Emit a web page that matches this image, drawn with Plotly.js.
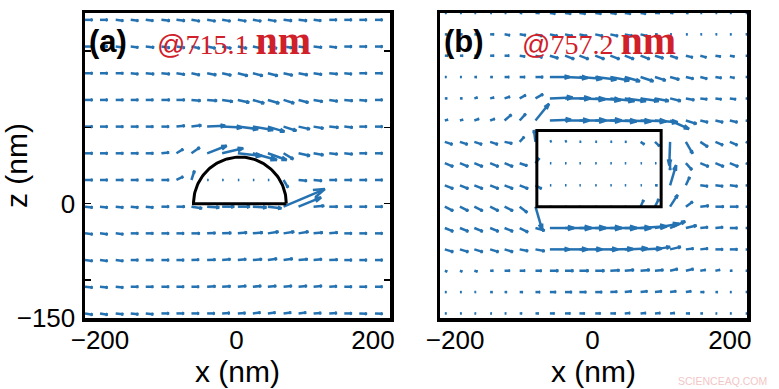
<!DOCTYPE html>
<html>
<head>
<meta charset="utf-8">
<script src="https://cdn.plot.ly/plotly-3.0.1.min.js"></script>
<style>html,body{margin:0;padding:0;background:#fff;}#chart{width:779px;height:389px;}</style>
</head>
<body>
<div id="chart"></div>
<script>
// ---------- Panel (a): @715.1 nm ----------
const Xa = [-222,-200,-177,-155,-133,-110,-88,-66,-43,-21,2,24,46,69,91,113,136,158,180,203];
const Ya = [241,206,171,136,101,66,31,-4,-39,-74,-109,-144];
const Ua = [
 [10,10,10,10,10,11,11,11,11,11,11,11,11,11,11,10,10,10,10,10],
 [10,10,10,10,11,11,11,11,11,12,12,12,12,11,11,11,10,10,10,10],
 [10,10,10,10,11,11,11,11,12,12,13,13,13,12,12,11,11,10,10,10],
 [10,10,10,10,10,11,11,12,13,14,15,15,15,14,13,12,11,11,10,10],
 [10,10,10,10,10,10,11,13,24,26,27,27,22,17,15,13,12,11,10,10],
 [10,10,10,10,10,10,9,11,26,28,32,32,25,13,15,13,11,11,10,10],
 [10,10,10,10,10,10,9,4,1.5,1.5,1.5,1.5,1.5,6,11,11,10,10,10,10],
 [10,10,10,10,10,10,11,14,16,16,16,18,18,55,30,14,11,10,10,10],
 [10,10,10,10,10,10,10,11,11,12,12,13,14,14,13,12,11,10,10,10],
 [10,10,10,10,10,10,10,10,11,11,11,12,12,12,12,11,11,10,10,10],
 [10,10,10,10,10,10,10,10,11,11,11,11,11,11,11,11,10,10,10,10],
 [10,10,10,10,10,10,10,10,10,10,10,10,10,10,10,10,10,10,10,10]
];
const Va = [
 [0,0,-1,-1,-1,-1,-1,-1.5,-1.5,-1.5,-1.5,-1.5,-1.5,-1,-1,-1,0,0,0,0],
 [0,0,-1,-1,-1,-1.5,-1.5,-2,-2,-2,-2,-2,-2,-1.5,-1.5,-1,-1,0,0,0],
 [0,0,0,-1,-1,-1,-1.5,-2,-2,-2.5,-3,-3,-3,-2.5,-2,-1.5,-1,-1,0,0],
 [0,0,0,0,0,0,0,-1,-1,-2,-3,-4,-4,-4,-3,-2,-1.5,-1,-1,0],
 [0,0,0,0,0,0,1,1.5,1,-1,-3,-4,-6,-5,-3,-2,-1,-1,0,0],
 [0,0,0,0,0,1,5,7,9,6,-3,-8,-8,-7,-3,-2,-1,-1,0,0],
 [0,0,0,0,0,0,4,11,0,0,0,0,0,-9,-1,-1,0,0,0,0],
 [-1,-1,-1,-1,-1,0,0,-2,-1,0,0,-1,-2,21,11,1,0,0,0,0],
 [-1,-1,-1,0,0,0,0,0,0.5,0.5,1,1,2,2,2,1,1,0,0,0],
 [-1,-1,-1,0,0,0,0,0.5,0.5,1,1,1,1.5,1.5,1,1,0.5,0,0,0],
 [-1,-1,-1,0,0,0,0,0,0.5,0.5,1,1,1,1,1,1,0.5,0,0,0],
 [-1.5,-1.5,-1,-1,-1,0,0,0,0,0.5,0.5,1,1,1,1,0.5,0.5,0,-0.5,-0.5]
];
// hemisphere particle outline (nm): centre x, half-width in x, height in z
const hemiCenter = 5;
const hemiRx = 68;
const hemiRz = 61;

// ---------- Panel (b): @757.2 nm ----------
const Xb = [-215,-193,-172,-149,-128,-106,-83,-62,-40,-19,4,26,47,70,91,113,136,157,179,200,223];
const Yb = [250,222,194,166,138,109,81,53,24,-4,-32,-60,-88,-116,-144];
const Ub = [
 [2,2,2,2,2,3,5,7,8,8,8,8,8,7,6,4,3,2,2,2,2],
 [3,3,3,5,7,8,9,10,10,10,10,10,10,9,3,2,2,2,2,2,2],
 [4,4,5,5,6,7,9,11,12,12,12,12,12,12,11,10,9,8,7,6,5],
 [2,2,3,3,6,7,10,26,30,30,28,25,20,17,14,12,10,9,8,6,5],
 [3,3,4,5,7,8,10,30,34,34,34,32,28,24,18,14,11,9,8,8,7],
 [4,4,6,6,9,8,18,28,32,35,35,35,35,34,30,25,14,10,10,10,9],
 [10,10,10,10,10,6,-2,2,2,2,2,2,2,5,6,-1,9,10,10,10,10],
 [11,11,11,11,11,10,5,1.5,1.5,1.5,1.5,1.5,1.5,1.5,1.5,0,8,11,11,11,11],
 [11,11,11,11,11,11,8,1.5,1.5,1.5,1.5,1.5,1.5,1.5,3,8,5,10,10,10,10],
 [11,11,11,11,11,10,9,1.5,1.5,1.5,1.5,1.5,1.5,4,5,10,9,11,11,11,10],
 [11,11,11,11,11,11,12,32,35,35,35,35,35,35,32,20,14,10,10,10,10],
 [11,11,11,11,11,11,12,26,30,30,30,30,30,28,20,14,10,10,10,10,10],
 [3,3,4,4,7,7,8,11,11,12,12,12,12,12,11,10,10,7,6,3,3],
 [2,2,2,3,3,4,6,8,9,9,9,9,9,9,9,8,7,5,3,2,2],
 [2,2,2,2,2,3,4,6,7,7,7,7,7,7,7,6,5,3,2,2,2]
];
const Vb = [
 [0,0,0,0,0,0,0,-1,-1,-1,-1,-1,-1,-1,0,0,0,0,0,0,0],
 [0,0,0,0,-1,-1,-2,-2,-2,-2,-2,-2,-2,-2,0,0,0,0,0,0,0],
 [0,0,0,0,0,-1,-2,-3,-4,-4,-4,-4,-4,-4,-3,-3,-2,-2,-1,-1,0],
 [0,0,0,0,0,0,0,0,-1,-2,-3,-4,-5,-5,-4,-3,-2,-2,-1,-1,0],
 [0,0,1,1,2,4,5,1,0,-1,-2,-3,-3,-3,-3,-3,-2,-1,-1,-1,0],
 [1,1,2,2,7,8,20,1,0,0,0,-1,-1,-1,-2,-10,-4,-2,-2,-2,-1],
 [-3,-3,-3,-3,-2,6,14,1,1,0,0,0,0,-3,-5,-28,-14,-6,-4,-4,-4],
 [-4,-4,-4,-4,-4,-3,6,0,0,0,0,0,0,0,0,-8,-8,-4,-4,-4,-4],
 [-4,-4,-4,-4,-4,-4,-4,0,0,0,0,0,0,0,0,24,10,-1,-1,-1,-1],
 [-5,-5,-5,-5,-5,-7,-28,0,0,0,0,0,0,8,9,14,6,1,0,0,0],
 [-4,-4,-4,-4,-4,-5,-3,0,0,0,0,0,0,2,5,8,3,1,1,0,0],
 [-3,-3,-3,-3,-3,-2,-2,0,0,0,0,0.5,1,1,3,3,1,1,0,0,0],
 [-1,-1,-1,0,0,0,0,0,0,0,0,0.5,1,1,1,2,2,1,1,0,0],
 [0,0,0,0,0,0,0,0,0,0,0,0.5,1,1,1,1,1,0,0,0,0],
 [0,0,0,0,0,0,0,0,0,0,0,0,0.5,0.5,0.5,0.5,0,0,0,0,0]
];
// nanobar cross-section outline (nm)
const rectBx = [-81, 100];
const rectBy = [-4, 96];

const ARROW = '#2472b1';
const arrowScale = 1.1;   // quiver scale factor

function quiver(X, Y, U, V) {
  const xs = [], ys = [];
  const alpha = 0.26, beta = 0.3;
  for (let i = 0; i < Y.length; i++) {
    for (let j = 0; j < X.length; j++) {
      const x0 = X[j], y0 = Y[i];
      const u = U[i][j] * arrowScale, v = V[i][j] * arrowScale;
      const tx = x0 + u, ty = y0 + v;
      xs.push(x0, tx, null);
      ys.push(y0, ty, null);
      xs.push(tx - alpha * (u + beta * v), tx, tx - alpha * (u - beta * v), null);
      ys.push(ty - alpha * (v - beta * u), ty, ty - alpha * (v + beta * u), null);
    }
  }
  return {x: xs, y: ys};
}

const qa = quiver(Xa, Ya, Ua, Va);
const qb = quiver(Xb, Yb, Ub, Vb);

const hx = [], hy = [];
for (let k = 0; k <= 90; k++) {
  const t = Math.PI * k / 90;
  hx.push(hemiCenter + hemiRx * Math.cos(t));
  hy.push(hemiRz * Math.sin(t));
}
hx.push(hemiCenter + hemiRx);
hy.push(0);

const traces = [
  {type: 'scatter', mode: 'lines', x: qa.x, y: qa.y, xaxis: 'x', yaxis: 'y',
   line: {color: ARROW, width: 2.5}, hoverinfo: 'skip', showlegend: false},
  {type: 'scatter', mode: 'lines', x: hx, y: hy, xaxis: 'x', yaxis: 'y',
   line: {color: 'black', width: 3}, hoverinfo: 'skip', showlegend: false},
  {type: 'scatter', mode: 'lines', x: qb.x, y: qb.y, xaxis: 'x2', yaxis: 'y2',
   line: {color: ARROW, width: 2.5}, hoverinfo: 'skip', showlegend: false}
];

const W = 779, H = 389;
const yDom = [1 - 318 / H, 1 - 13 / H];
const xRange = [-222, 225];
const yRange = [-150, 250];
const xTicks = [-200, 0, 200];
const yTicks = [-150, 0, 250];
const tickFont = {family: 'Liberation Sans, Arial, sans-serif', size: 26, color: 'black'};
const axBase = {
  showline: true, linecolor: 'black', linewidth: 3.5, mirror: true,
  showgrid: false, zeroline: false, automargin: false, ticks: '',
  tickfont: tickFont
};

const layout = {
  width: W, height: H,
  margin: {l: 0, r: 0, t: 0, b: 0},
  paper_bgcolor: 'white', plot_bgcolor: 'white',
  showlegend: false,
  font: {family: 'Liberation Sans, Arial, sans-serif', color: 'black'},
  xaxis: Object.assign({}, axBase, {
    domain: [85 / W, 390 / W], range: xRange, anchor: 'y',
    tickvals: xTicks, ticklabelstandoff: -4,
    title: {text: 'x (nm)', font: {size: 30}, standoff: 0}
  }),
  yaxis: Object.assign({}, axBase, {
    domain: yDom, range: yRange, anchor: 'x',
    tickvals: yTicks, ticklabelstandoff: 1,
    minor: {tickvals: [-100, 0, 100, 200], ticks: 'inside', ticklen: 6, tickwidth: 1.5, tickcolor: 'black'},
    mirror: 'allticks',
    title: {text: 'z (nm)', font: {size: 30}, standoff: 0}
  }),
  xaxis2: Object.assign({}, axBase, {
    domain: [440 / W, 747 / W], range: xRange, anchor: 'y2',
    tickvals: xTicks, ticklabelstandoff: -4,
    title: {text: 'x (nm)', font: {size: 30}, standoff: 0}
  }),
  yaxis2: Object.assign({}, axBase, {
    domain: yDom, range: yRange, anchor: 'x2', showticklabels: false
  }),
  shapes: [
    {type: 'rect', xref: 'x2', yref: 'y2', x0: rectBx[0], x1: rectBx[1], y0: rectBy[0], y1: rectBy[1],
     line: {color: 'black', width: 3}, fillcolor: 'rgba(0,0,0,0)', layer: 'above'}
  ],
  annotations: [
    {xref: 'paper', yref: 'paper', x: 87 / W, y: 1 - 41 / H, xanchor: 'left', yanchor: 'middle',
     text: '<b>(a)</b>', showarrow: false, font: {family: 'Liberation Sans, Arial', size: 31, color: 'black'}},
    {xref: 'paper', yref: 'paper', x: 442 / W, y: 1 - 41 / H, xanchor: 'left', yanchor: 'middle',
     text: '<b>(b)</b>', showarrow: false, font: {family: 'Liberation Sans, Arial', size: 31, color: 'black'}},
    {xref: 'paper', yref: 'paper', x: 155 / W, y: 1 - 40 / H, xanchor: 'left', yanchor: 'middle', showarrow: false,
     font: {family: 'Liberation Serif, Times New Roman, serif', size: 28, color: '#d0202a'},
     text: '<span style="font-family:Liberation Sans">@</span>715.1 <b><span style="font-size:40px">nm</span></b>'},
    {xref: 'paper', yref: 'paper', x: 520 / W, y: 1 - 40 / H, xanchor: 'left', yanchor: 'middle', showarrow: false,
     font: {family: 'Liberation Serif, Times New Roman, serif', size: 28, color: '#d0202a'},
     text: '<span style="font-family:Liberation Sans">@</span>757.2 <b><span style="font-size:40px">nm</span></b>'},
    {xref: 'paper', yref: 'paper', x: 722 / W, y: 1 - 381 / H, xanchor: 'center', yanchor: 'middle', showarrow: false,
     font: {family: 'Liberation Sans, Arial', size: 10.5, color: '#f3c6c6'}, text: 'SCIENCEAQ.COM'}
  ]
};

Plotly.newPlot('chart', traces, layout, {displayModeBar: false, staticPlot: true});
</script>
</body>
</html>
